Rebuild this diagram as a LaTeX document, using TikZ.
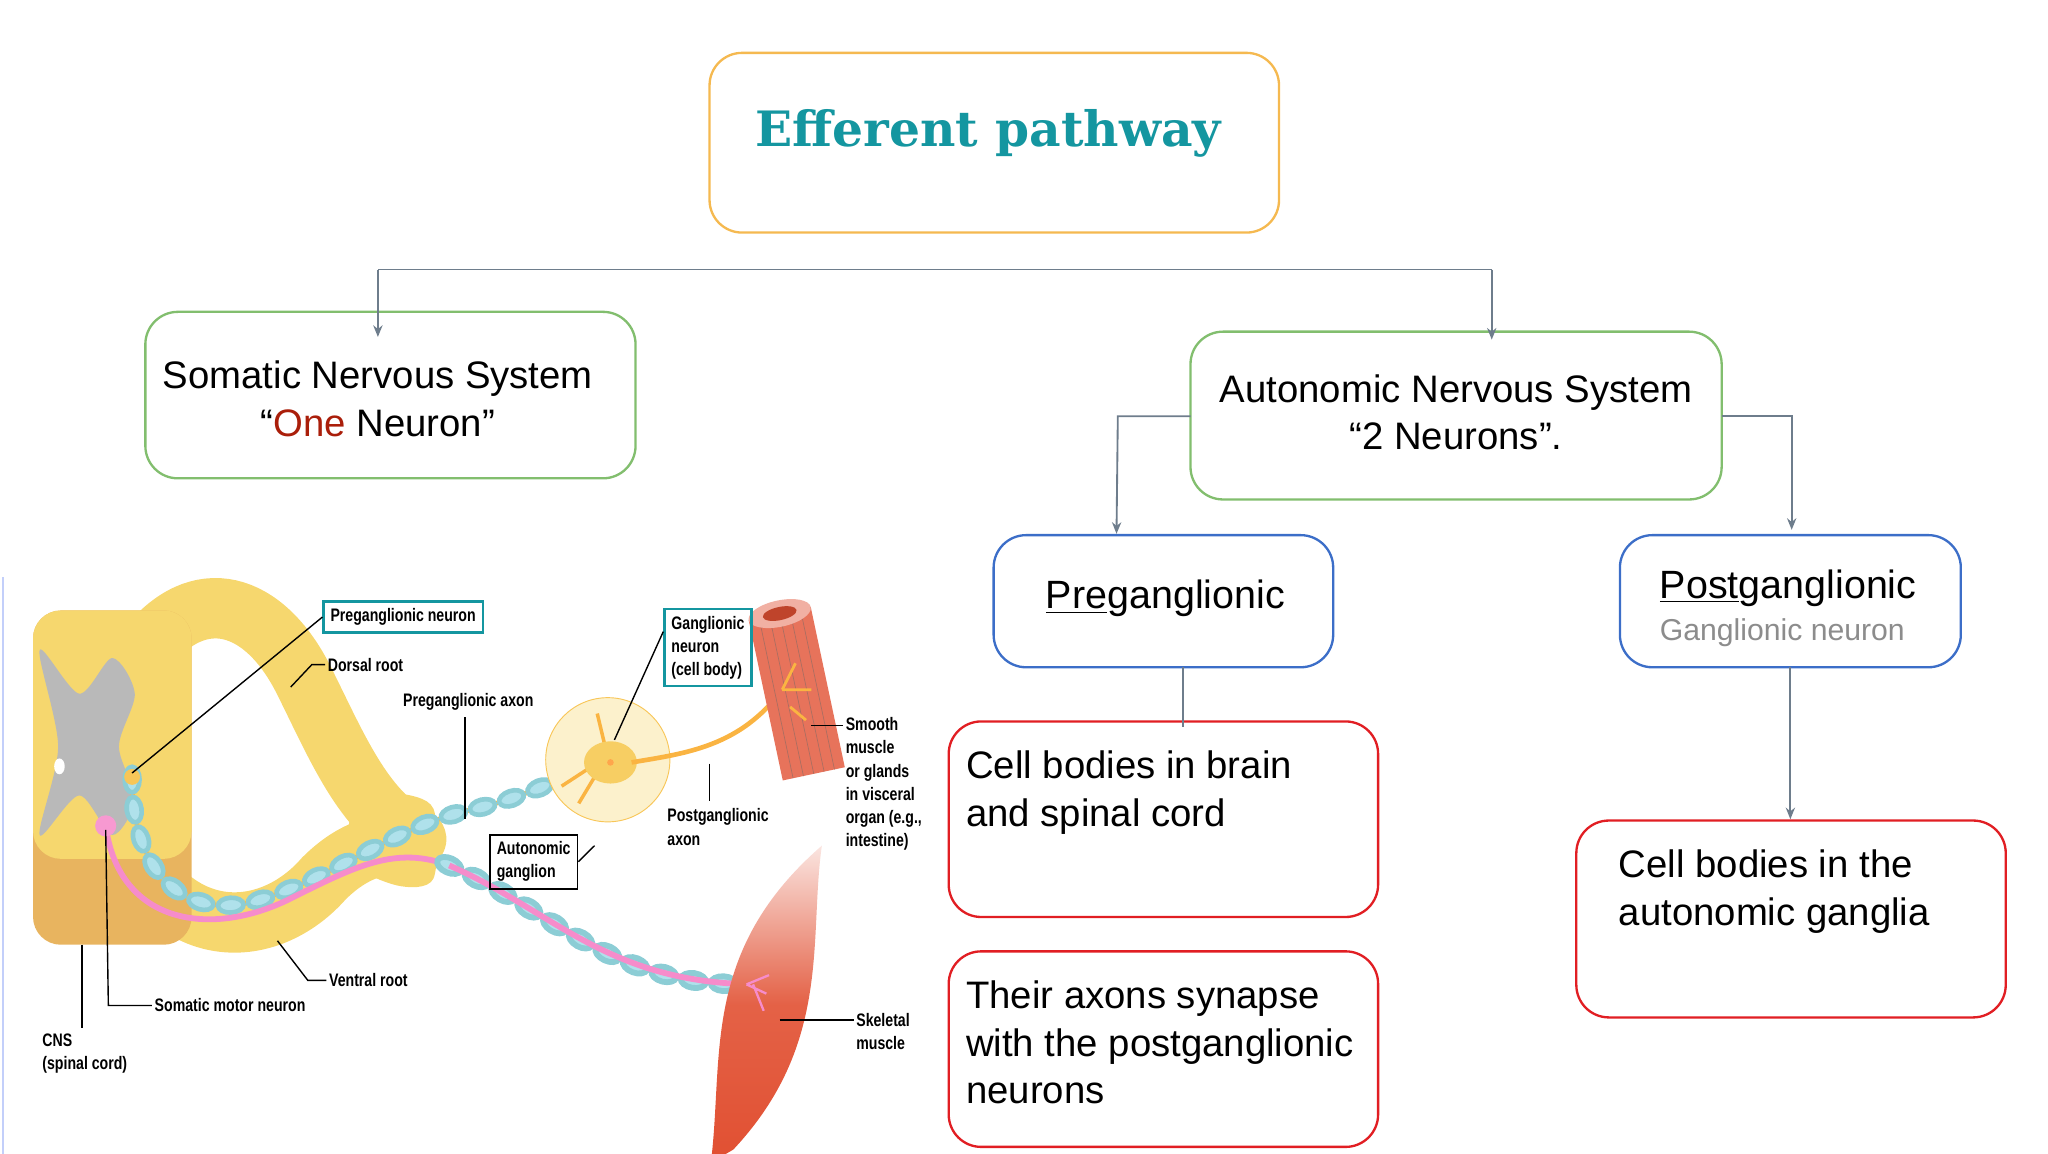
\documentclass[tikz,border=0pt]{standalone}
\usepackage{fontspec}
\setmainfont{Liberation Sans}
\newfontfamily\titlefont[Scale=1]{DejaVu Serif}
\newfontfamily\lblfont[FakeStretch=0.78]{Liberation Sans}
\usetikzlibrary{positioning,decorations.markings,arrows.meta}

\definecolor{titleteal}{RGB}{20,150,160}
\definecolor{boxorange}{RGB}{245,185,80}
\definecolor{boxgreen}{RGB}{130,190,110}
\definecolor{boxblue}{RGB}{60,110,200}
\definecolor{boxred}{RGB}{225,30,35}
\definecolor{wirecol}{RGB}{110,125,140}
\definecolor{onered}{RGB}{170,30,10}
\definecolor{cordyel}{RGB}{246,215,110}
\definecolor{cordorg}{RGB}{232,180,95}
\definecolor{myelin}{RGB}{175,225,235}
\definecolor{musred}{RGB}{225,80,50}

\tikzset{
  box/.style={draw, rounded corners=14pt, line width=1pt, fill=white},
  txt/.style={font=\fontsize{16.5}{20.5}\selectfont, align=left, anchor=north west},
  wire/.style={wirecol, line width=0.8pt},
  arr/.style={wire, -{Stealth[length=5pt,width=4pt]}},
  lbl/.style={font=\lblfont\bfseries\fontsize{7.8}{10}\selectfont, align=left, inner sep=1pt},
  lead/.style={black, line width=0.6pt},
  sheath/.style={postaction={decorate, decoration={markings,
      mark=between positions 0 and 1 step 13pt with {\fill[myelin, draw=myelin!80!teal] (0,0) ellipse (5.5pt and 3.2pt);}}}}
}

\begin{document}
\begin{tikzpicture}[x=0.02cm, y=-0.02cm]
\useasboundingbox (0,0) rectangle (1550,873);

% title and system boxes
\draw[box, draw=boxorange] (537,40) rectangle (968,176);
\node[font=\titlefont\bfseries\fontsize{21}{24}\selectfont, text=titleteal] (title) at (748,101) {Efferent pathway};

\draw[box, draw=boxgreen] (110,236) rectangle (481,362);
\node[font=\fontsize{16.5}{20.5}\selectfont, align=center] (somatic) at (286,302) {Somatic Nervous System\\``\textcolor{onered}{One} Neuron''};

\draw[box, draw=boxgreen] (901,251) rectangle (1303,378);
\node[font=\fontsize{16.5}{20.5}\selectfont, align=center] (auto) at (1102,312) {Autonomic Nervous System\\``2 Neurons''.};

\draw[box, draw=boxblue] (752,405) rectangle (1009,505);
\node[font=\fontsize{17}{20}\selectfont] (pre) at (882,453) {\underline{Pre}ganglionic};

\draw[box, draw=boxblue] (1226,405) rectangle (1484,505);
\node[font=\fontsize{17}{20}\selectfont, anchor=west] (post) at (1250,445) {\underline{Post}ganglionic};
\node[font=\fontsize{13}{16}\selectfont, text=gray!90, anchor=west] (postsub) at (1250,479) {Ganglionic neuron};

\draw[box, draw=boxred] (718,546) rectangle (1043,694);
\node[txt] (cells) at (725,562) {Cell bodies in brain\\and spinal cord};
\draw[box, draw=boxred] (718,720) rectangle (1043,868);
\node[txt] (axons) at (725,736) {Their axons synapse\\with the postganglionic\\neurons};
\draw[box, draw=boxred] (1193,621) rectangle (1518,770);
\node[txt] (ganglia) at (1219,637) {Cell bodies in the\\autonomic ganglia};

% connectors
\coordinate (tl) at (286,204); \coordinate (tr) at (1129,204);
\draw[wire] (tl) -- (tr);
\draw[arr] (tl) -- (286,255);
\draw[arr] (tr) -- (1129,257);
\draw[arr] (901,315) -- (846,315) -- (845,404);
\draw[arr] (1303,315) -- (1356,315) -- (1356,401);
\draw[wire] (895,505) -- (895,550);
\draw[arr] (1355,505) -- (1355,620);

% illustration
\draw[myelin!60!blue!40, line width=0.8pt] (2,437) -- (2,873);
% roots
\draw[cordyel, line width=26pt, line cap=round] (110,492) .. controls (150,440) and (200,455) .. (230,515) .. controls (255,565) and (275,615) .. (315,635);
\draw[cordyel, line width=26pt] (110,660) .. controls (150,715) and (210,705) .. (245,665) .. controls (270,640) and (295,635) .. (325,640);
\fill[cordyel] plot[smooth cycle] coordinates {(270,600) (300,600) (328,612) (328,665) (300,670) (265,650)};
% spinal cord
\fill[cordorg, rounded corners=12pt] (25,462) rectangle (145,715);
\fill[cordyel, rounded corners=12pt] (25,462) rectangle (145,650);
\fill[gray!55] plot[smooth cycle] coordinates {(30,492) (60,525) (85,498) (102,525) (90,565) (102,605) (85,632) (60,602) (30,632) (44,565)};
\fill[white] (45,580) ellipse (4 and 6);
% preganglionic axon
\draw[cordyel!70!orange, line width=2pt, sheath] (100,590) .. controls (100,660) and (140,700) .. (200,680) .. controls (260,660) and (300,625) .. (360,612) .. controls (390,605) and (410,595) .. (430,588);
% somatic axon
\draw[magenta!45, line width=2.5pt] (80,625) .. controls (90,700) and (160,710) .. (220,680) .. controls (270,655) and (300,640) .. (340,655);
\draw[magenta!45, line width=2.5pt, sheath] (340,655) .. controls (420,690) and (460,745) .. (565,745);
\draw[magenta!45, line width=2.5pt] (340,655) .. controls (420,690) and (460,745) .. (575,745);
\fill[magenta!40] (80,625) circle (8);
\fill[cordyel!80!orange] (100,588) circle (6);
% ganglion
\draw[cordyel!80!orange, fill=cordyel!35] (460,575) circle (47);
\draw[cordyel!60!orange, line width=1.5pt] (425,595) -- (448,580) (438,608) -- (450,588) (452,540) -- (458,565);
\fill[cordyel!90!orange] (462,577) ellipse (20 and 16);
\fill[orange!70] (462,577) circle (2.5);
\draw[cordyel!60!orange, line width=2pt] (478,577) .. controls (520,570) and (560,565) .. (592,522);
% smooth muscle
\begin{scope}[shift={(603,525)}, rotate=12]
\fill[musred!80] (-24,-62) rectangle (24,62);
\foreach \sx in {-16,-8,0,8,16} {\draw[musred!60!black!70, line width=0.3pt] (\sx,-58) -- (\sx,62);}
\fill[musred!45] (0,-62) ellipse (24 and 10);
\fill[musred!85!black] (0,-62) ellipse (13 and 5);
\end{scope}
\draw[cordyel!60!orange, line width=1.2pt] (592,522) -- (602,502) (592,522) -- (614,522) (598,535) -- (610,545);
% skeletal muscle
\shade[top color=musred!15, bottom color=musred, middle color=musred!90] (622,640) .. controls (612,710) and (630,790) .. (555,870) -- (538,880) .. controls (548,800) and (530,720) .. (622,640);
\draw[magenta!45, line width=1pt] (565,745) -- (582,738) (565,745) -- (580,752) (570,745) -- (578,765);

% labels
\node[lbl, draw=titleteal, line width=1pt, inner sep=3pt, anchor=west] (lpreneuron) at (244,467) {Preganglionic neuron};
\draw[lead] (lpreneuron.west) -- (100,585);
\node[lbl, anchor=west] (ldorsal) at (246,503) {Dorsal root};
\draw[lead] (ldorsal.west) -- (236,503) -- (220,520);
\node[lbl, anchor=west] (lpreaxon) at (303,531) {Preganglionic axon};
\draw[lead] (352,543) -- (352,620);
\node[lbl, draw=titleteal, line width=1pt, inner sep=3pt, anchor=north west] (lgang) at (502,460) {Ganglionic\\neuron\\(cell body)};
\draw[lead] (lgang.north west) ++(0,18) -- (465,560);
\node[lbl, draw=black, line width=0.8pt, inner sep=3pt, anchor=north west] (lauto) at (370,631) {Autonomic\\ganglion};
\draw[lead] (lauto.east) -- (450,640);
\node[lbl, anchor=north west] (lpostaxon) at (503,610) {Postganglionic\\axon};
\draw[lead] (537,578) -- (537,606);
\node[lbl, anchor=north west] (lsmooth) at (638,541) {Smooth\\muscle\\or glands\\in visceral\\organ (e.g.,\\intestine)};
\draw[lead] (614,549) -- (lsmooth.north west |- 0,549);
\node[lbl, anchor=north west] (lskel) at (646,765) {Skeletal\\muscle};
\draw[lead] (590,772) -- (lskel.north west |- 0,772);
\node[lbl, anchor=west] (lventral) at (247,742) {Ventral root};
\draw[lead] (lventral.west) -- (233,742) -- (210,712);
\node[lbl, anchor=west] (lsomatic) at (115,761) {Somatic motor neuron};
\draw[lead] (80,628) -- (82,761) -- (lsomatic.west);
\node[lbl, anchor=north west] (lcns) at (30,780) {CNS\\(spinal cord)};
\draw[lead] (62,715) -- (62,778);
\end{tikzpicture}
\end{document}
